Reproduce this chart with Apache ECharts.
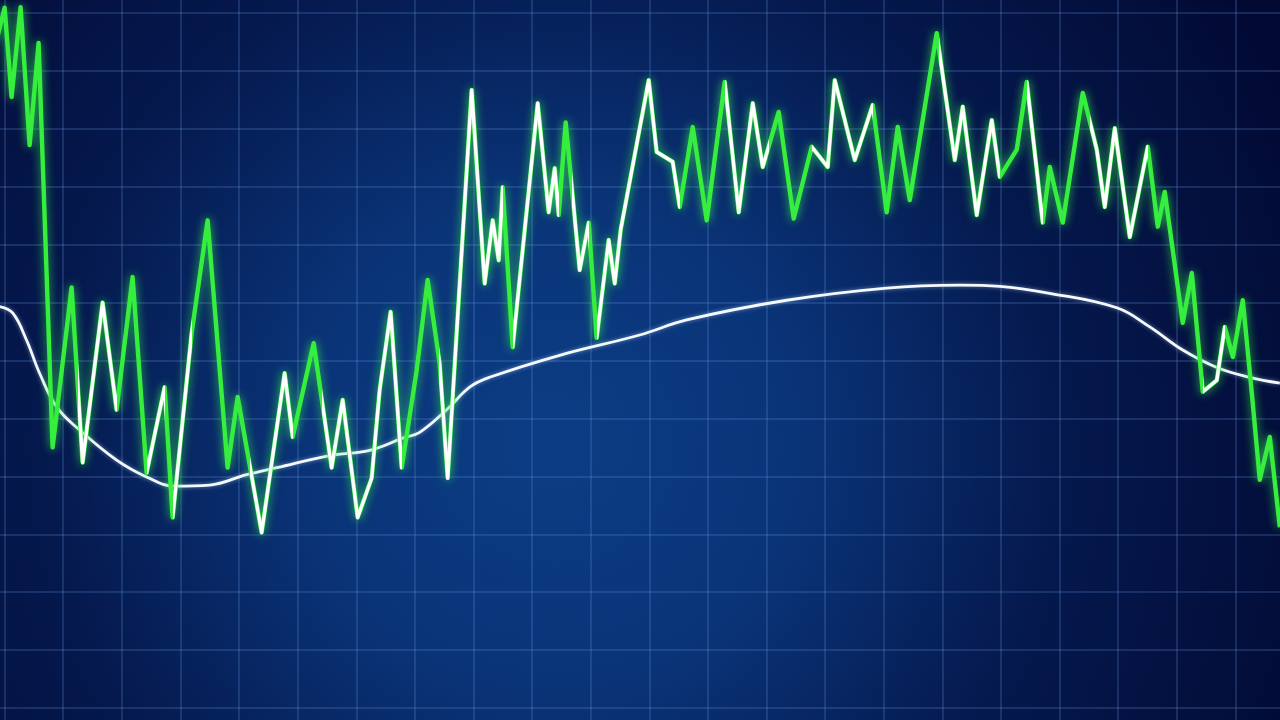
<!DOCTYPE html>
<html>
<head>
<meta charset="utf-8">
<script src="https://cdn.jsdelivr.net/npm/echarts@6/dist/echarts.min.js"></script>
<style>
html,body{margin:0;padding:0;width:1280px;height:720px;overflow:hidden;background:#041446;position:relative;}
#chart{position:absolute;left:-54px;top:-45px;width:1348px;height:811px;}
</style>
</head>
<body>
<div id="chart"></div>
<script>
// Price path: [time, price]
const priceDays = [-1.37,0,1.19,2.73,4.27,5.80,8.19,11.43,13.31,16.72,19.11,21.84,24.23,27.30,28.67,31.91,34.64,38.05,39.76,43.86,47.78,49.15,52.73,55.80,57.68,60.24,62.63,63.99,65.87,67.75,70.31,72.18,74.23,75.60,79.69,81.91,83.28,84.30,84.98,86.69,90.96,92.83,93.86,94.54,95.73,98.12,99.66,101.02,103.07,104.10,105.12,109.90,111.26,113.99,115.19,117.41,119.80,122.87,125.26,127.65,129.35,132.08,134.64,137.71,140.44,141.64,145.05,148.12,150.51,152.39,154.44,159.04,162.12,163.48,165.87,168.43,169.80,172.70,174.40,177.13,178.33,180.55,183.96,186.35,187.71,189.42,191.98,195.05,196.76,197.95,201.02,202.56,204.44,206.83,208.19,209.56,211.26,212.80,214.16,215.87,217.58];
const priceValues = [115.3,120.9,105.5,121.0,97.2,114.8,45.0,72.6,42.4,70.0,51.5,74.4,40.6,55.4,32.9,64.7,84.2,41.5,53.7,30.3,57.8,46.8,63.0,41.5,53.2,32.9,39.7,54.9,68.4,41.5,58.3,73.9,59.5,39.7,106.7,73.3,84.2,77.3,89.9,62.3,104.4,85.6,93.2,85.1,101.1,75.6,83.8,63.9,80.8,73.3,82.6,108.4,96.0,94.3,86.5,100.3,84.2,108.1,85.6,104.4,93.4,102.9,84.5,96.9,93.4,108.4,94.6,104.1,85.6,100.3,87.7,116.5,94.6,103.8,85.1,101.5,91.7,96.4,108.1,83.8,93.4,83.8,106.2,96.4,86.5,100.1,81.3,96.9,83.1,89.1,66.5,75.1,54.6,56.6,65.8,60.6,70.4,54.4,39.4,46.8,31.2];

// Moving average: [time, value]
const maDays = [-0.85,1.37,3.75,5.97,8.87,12.80,19.11,24.23,29.01,34.98,41.30,46.42,55.46,62.29,67.92,70.82,75.43,79.35,82.76,94.71,108.36,116.38,133.45,150.51,162.97,169.80,178.33,189.76,195.39,201.02,206.83,212.46,217.58];
const maValues = [69.3,68.2,63.5,57.8,52.0,48.0,42.8,39.9,38.3,38.5,40.3,41.5,43.6,44.5,46.6,47.6,51.5,55.4,57.1,60.9,64.4,67.0,70.4,72.5,73.0,72.8,71.6,69.1,65.8,61.8,58.8,57.1,56.1];

// Time spans where the price trace shows white
const whiteSpanStart = [12.46,24.23,28.67,41.8,54.1,74.2,86.69,96.8,101.02,122.87,137.71,159.5,174.4,185.2,204.44];
const whiteSpanEnd   = [19.11,27.30,31.91,49.15,67.75,84.98,94.54,99.66,115.19,130.5,148.12,169.80,177.13,195.05,208.19];

const pricePairs = priceDays.map((d, i) => [d, priceValues[i]]);
const maPairs = maDays.map((d, i) => [d, maValues[i]]);
const pieces = whiteSpanStart.map((s, i) => ({ gte: s, lt: whiteSpanEnd[i], color: '#ffffff' }));

const gridLine = { show: true, lineStyle: { color: 'rgba(100,150,225,0.22)', width: 2 } };

const chart = echarts.init(document.getElementById('chart'), null, { renderer: 'canvas' });
chart.setOption({
  animation: false,
  backgroundColor: {
    type: 'radial', x: 0.45, y: 0.6, r: 1.0,
    colorStops: [
      { offset: 0, color: '#0c3d84' },
      { offset: 0.3, color: '#0a3478' },
      { offset: 0.62, color: '#05194e' },
      { offset: 1, color: '#020a34' }
    ]
  },
  grid: { left: 0, right: 0, top: 0, bottom: 0, containLabel: false },
  xAxis: {
    type: 'value', min: -10, max: 220, interval: 10,
    axisLine: { show: false }, axisTick: { show: false }, axisLabel: { show: false },
    splitLine: gridLine
  },
  yAxis: {
    type: 'value', min: -10, max: 130, interval: 10,
    axisLine: { show: false }, axisTick: { show: false }, axisLabel: { show: false },
    splitLine: gridLine
  },
  visualMap: [{
    type: 'piecewise', show: false, dimension: 0, seriesIndex: 1,
    pieces: pieces,
    outOfRange: { color: 'rgba(255,255,255,0)' }
  }],
  series: [
    {
      name: 'ma', type: 'line', data: maPairs, smooth: 0.4, showSymbol: false,
      lineStyle: { color: '#f4f8ff', width: 2.8, shadowColor: 'rgba(200,230,255,0.5)', shadowBlur: 4 },
      z: 2
    },
    {
      name: 'priceWhite', type: 'line', data: pricePairs, showSymbol: false,
      lineStyle: { width: 3.4, join: 'round' },
      z: 4
    },
    {
      name: 'price', type: 'line', data: pricePairs, showSymbol: false,
      lineStyle: { color: '#35ee3e', width: 4.4, join: 'round', shadowColor: 'rgba(60,255,80,0.75)', shadowBlur: 10 },
      z: 3
    }
  ]
});
</script>
</body>
</html>
